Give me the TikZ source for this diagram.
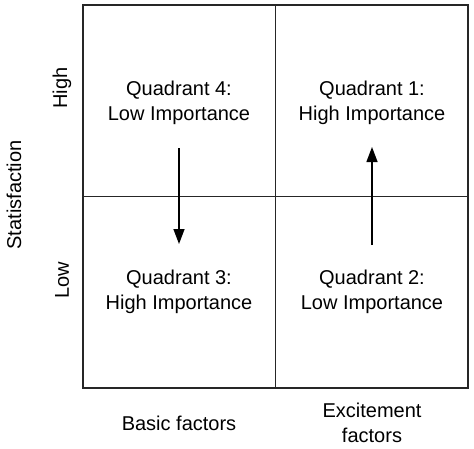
\documentclass[tikz,border=0pt]{standalone}
\usepackage{fontspec}
\setmainfont{Liberation Sans}
\usetikzlibrary{arrows.meta}
\begin{document}
\begin{tikzpicture}[x=1pt,y=-1pt,
  lbl/.style={font=\fontsize{20}{25.5}\selectfont, align=center, inner sep=0pt},
  grid/.style={line width=1.3pt, draw=black!85},
  arr/.style={line width=1.4pt, -{Triangle[width=11pt,length=15pt]}}]
\useasboundingbox (0,0) rectangle (474,448);
\draw[grid] (83,5) rectangle (468,388);
\draw[grid] (275.5,5) -- (275.5,388);
\draw[grid] (83,196.5) -- (468,196.5);
\node[lbl] (q4) at (179,103) {Quadrant 4:\\Low Importance};
\node[lbl] (q1) at (372,103) {Quadrant 1:\\High Importance};
\node[lbl] (q3) at (179,292) {Quadrant 3:\\High Importance};
\node[lbl] (q2) at (372,292) {Quadrant 2:\\Low Importance};
\coordinate (a1s) at (179,148);
\coordinate (a1e) at (179,244);
\coordinate (a2s) at (372,245);
\coordinate (a2e) at (372,147);
\draw[arr] (a1s) -- (a1e);
\draw[arr] (a2s) -- (a2e);
\node[lbl, rotate=90] (high) at (62,88) {High};
\node[lbl, rotate=90] (low) at (62,280) {Low};
\node[lbl, rotate=90] (sat) at (14,195) {Statisfaction};
\node[lbl] (basic) at (179,423) {Basic factors};
\node[lbl] (exc) at (372,423) {Excitement\\factors};
\end{tikzpicture}
\end{document}
